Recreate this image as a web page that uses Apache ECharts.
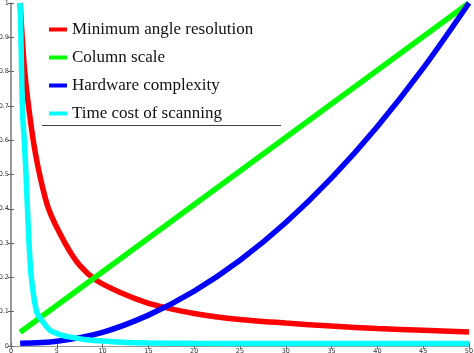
<!DOCTYPE html>
<html>
<head>
<meta charset="utf-8">
<script src="https://cdn.jsdelivr.net/npm/echarts@6/dist/echarts.min.js"></script>
<style>
html, body { margin: 0; padding: 0; background: #fff; }
#chart { width: 474px; height: 353px; }
</style>
</head>
<body>
<div id="chart"></div>
<script>
"use strict";
var seriesNames = ['Minimum angle resolution', 'Column scale', 'Hardware complexity', 'Time cost of scanning'];
var seriesColors = ['#ff0000', '#00ff00', '#0000ff', '#00ffff'];

// values
var angleX = [1, 1.5, 2.26, 3, 4.1, 5.9, 7.5, 9.4, 12, 14.7, 17, 20, 24.4, 30, 35, 40, 45, 50];
var angleY = [1, 0.8, 0.63, 0.516, 0.40, 0.30, 0.235, 0.19, 0.155, 0.127, 0.111, 0.095, 0.079, 0.067, 0.058, 0.051, 0.046, 0.041];

var columnX = [1, 25, 50];
var columnY = [0.04, 0.51, 1];

var hardwareX = [1, 5, 10, 15, 20, 25, 30, 35, 40, 45, 50];
var hardwareY = [0.008, 0.014, 0.04, 0.09, 0.16, 0.25, 0.36, 0.49, 0.64, 0.81, 1];

var scanX = [1, 1.1, 1.2, 1.3, 1.45, 1.64, 1.8, 1.97, 2.22, 2.8, 3.5, 4.3, 5.5, 6.5, 8, 9.7, 12, 15, 20, 30, 50];
var scanY = [1, 0.88, 0.74, 0.66, 0.6, 0.5, 0.4, 0.3, 0.2, 0.1, 0.07, 0.045, 0.032, 0.026, 0.019, 0.015, 0.011, 0.009, 0.008, 0.007, 0.007];

function pairs(xs, ys) {
    var out = [];
    for (var i = 0; i < xs.length; i++)
        out.push([xs[i], ys[i]]);
    return out;
}

function makeSeries(name, color, data, smooth) {
    return {
        name: name,
        type: 'line',
        data: data,
        smooth: smooth,
        showSymbol: false,
        silent: true,
        color: color,
        lineStyle: { color: color, width: 5.5 },
        animation: false
    };
}

var tickStyle = { show: true, inside: true, length: 3, lineStyle: { color: '#666', width: 1 } };
var labelStyle = { fontSize: 6.5, color: '#333', fontFamily: 'DejaVu Sans', margin: 2 };

var chart = echarts.init(document.getElementById('chart'));
chart.setOption({
    animation: false,
    backgroundColor: '#fff',
    grid: { left: 11, right: 5, top: 3, bottom: 7, containLabel: false, outerBoundsMode: 'none' },
    legend: {
        orient: 'vertical',
        left: 44,
        top: 16,
        itemWidth: 18,
        itemHeight: 4,
        itemGap: 11,
        icon: 'rect',
        data: seriesNames,
        textStyle: { fontFamily: 'Liberation Serif', fontSize: 17, lineHeight: 17, color: '#111' }
    },
    graphic: [{
        type: 'line',
        shape: { x1: 42, y1: 125.5, x2: 281, y2: 125.5 },
        style: { stroke: '#444', lineWidth: 1 }
    }],
    xAxis: [{
        type: 'value', position: 'bottom', min: 0, max: 50, interval: 5,
        axisLine: { show: true, lineStyle: { color: '#999', width: 1 } },
        axisTick: tickStyle,
        axisLabel: labelStyle,
        splitLine: { show: false }
    }, {
        type: 'value', position: 'top', min: 0, max: 50, interval: 5,
        axisLine: { show: false },
        axisTick: tickStyle,
        axisLabel: { show: false },
        splitLine: { show: false }
    }],
    yAxis: [{
        type: 'value', position: 'left', min: 0, max: 1, interval: 0.1,
        axisLine: { show: false },
        axisTick: tickStyle,
        axisLabel: labelStyle,
        splitLine: { show: false }
    }, {
        type: 'value', position: 'right', min: 0, max: 1, interval: 0.1,
        axisLine: { show: true, lineStyle: { color: '#777', width: 1.5 } },
        axisTick: tickStyle,
        axisLabel: { show: false },
        splitLine: { show: false }
    }],
    series: [
        makeSeries(seriesNames[0], seriesColors[0], pairs(angleX, angleY), 0.3),
        makeSeries(seriesNames[1], seriesColors[1], pairs(columnX, columnY), false),
        makeSeries(seriesNames[2], seriesColors[2], pairs(hardwareX, hardwareY), 0.3),
        makeSeries(seriesNames[3], seriesColors[3], pairs(scanX, scanY), 0.3)
    ]
});
</script>
</body>
</html>
